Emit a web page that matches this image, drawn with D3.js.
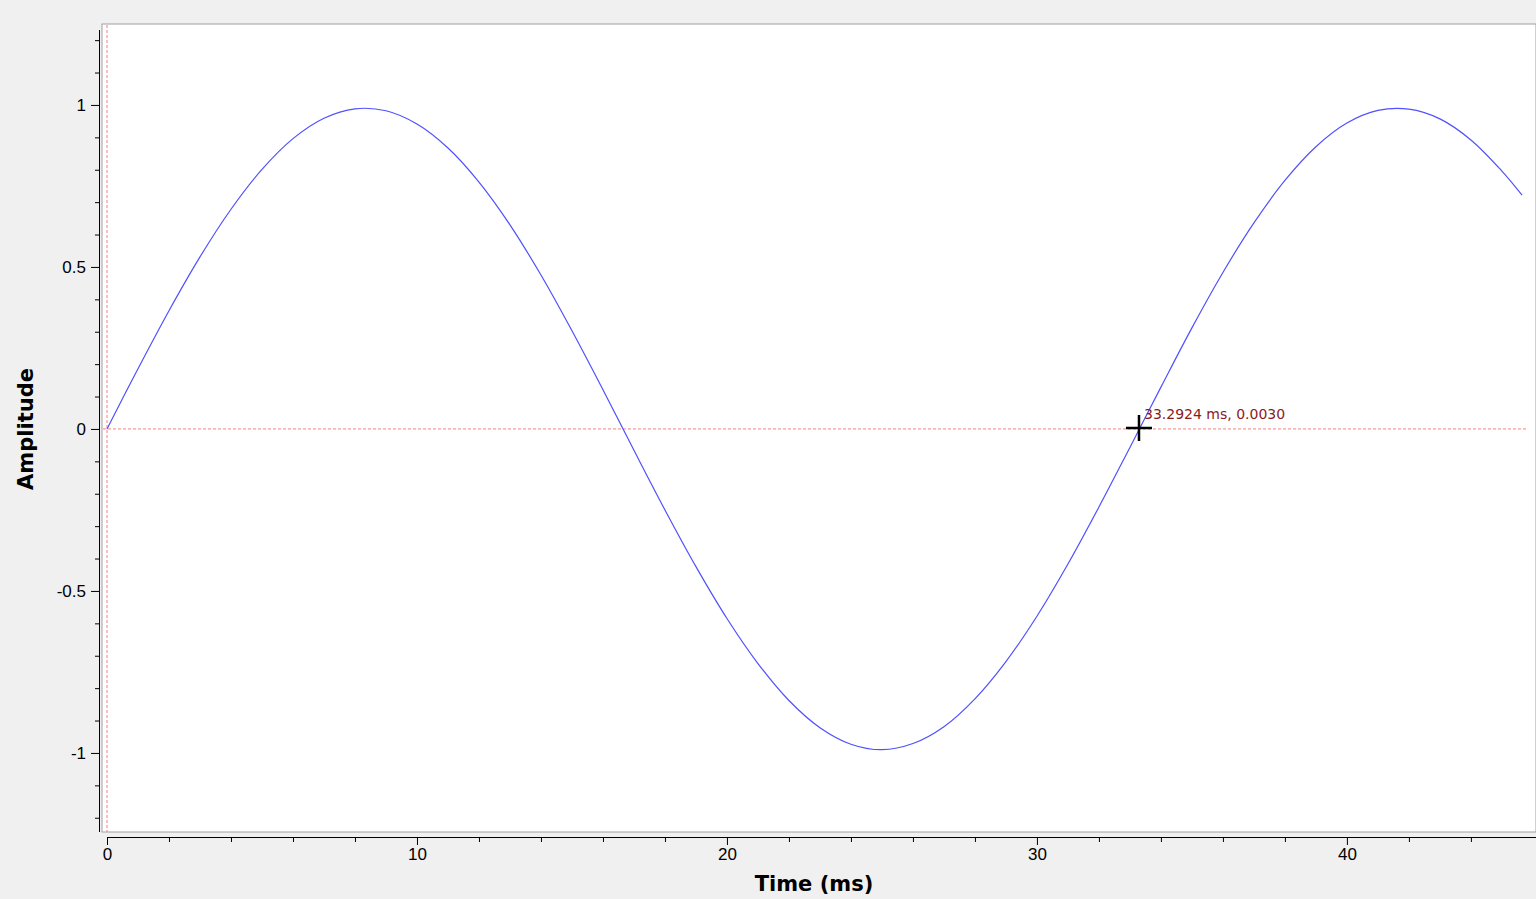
<!DOCTYPE html>
<html><head><meta charset="utf-8">
<script src="https://cdn.jsdelivr.net/npm/d3@7"></script>
<style>body{margin:0;background:#f0f0f0;}svg{display:block;font-family:"DejaVu Sans",Verdana,sans-serif;}</style>
</head><body><svg id="c" width="1536" height="899"></svg>
<script>
const timeMs = [0,1,2,3,4,5,6,7,8,9,10,11,12,13,14,15,16,17,18,19,20,21,22,23,24,25,26,27,28,29,30,31,32,33,34,35,36,37,38,39,40,41,42,43,44,45,45.65];
const amplitude = [0,0.186,0.365,0.531,0.678,0.801,0.896,0.959,0.988,0.982,0.941,0.867,0.762,0.630,0.475,0.303,0.121,-0.066,-0.250,-0.425,-0.585,-0.724,-0.838,-0.922,-0.973,-0.990,-0.971,-0.919,-0.833,-0.718,-0.578,-0.417,-0.241,-0.057,0.129,0.312,0.483,0.636,0.767,0.871,0.944,0.983,0.987,0.957,0.892,0.796,0.722];
const xTicks = [0,10,20,30,40];
const yTicks = [-1,-0.5,0,0.5,1];
const yTickLabels = ["-1","-0.5","0","0.5","1"];
const marker = {t:33.2924, a:0.0030, label:"33.2924 ms, 0.0030"};

const svg = d3.select("#c");
const x = d3.scaleLinear().domain([0,45.81]).range([107,1527]);
const y = d3.scaleLinear().domain([-1.244,1.256]).range([832,22]);

svg.append("rect").attr("x",102).attr("y",24).attr("width",1434).attr("height",808)
  .attr("fill","#fff").attr("stroke","#a0a0a0");

svg.append("line").attr("x1",x(0)).attr("x2",x(0)).attr("y1",25).attr("y2",832)
  .attr("stroke","#f08080").attr("stroke-dasharray","3,2");
svg.append("line").attr("x1",103).attr("x2",1527).attr("y1",y(0)).attr("y2",y(0))
  .attr("stroke","#f08080").attr("stroke-dasharray","3,2");

const xAxis = d3.axisBottom(x).tickValues(d3.range(0,46,2)).tickSize(5).tickFormat(d => xTicks.includes(d)? d : "");
const gx = svg.append("g").attr("transform","translate(0,837)").call(xAxis);
gx.select(".domain").attr("d",`M${x(0)},0.5H1536`).attr("stroke","#000");
gx.selectAll(".tick").filter(d=>xTicks.includes(d)).select("line").attr("y2",8);
gx.selectAll("text").attr("font-size",17).attr("dy","0.9em").attr("fill","#000");

const yAxis = d3.axisLeft(y).tickValues(d3.range(-12,13).map(v=>v/10)).tickSize(4)
  .tickFormat(d => { const i = yTicks.findIndex(v=>Math.abs(v-d)<1e-9); return i>=0? yTickLabels[i] : ""; });
const gy = svg.append("g").attr("transform","translate(99,0)").call(yAxis);
gy.select(".domain").attr("d","M0.5,30V832").attr("stroke","#000");
gy.selectAll(".tick").filter(d=>yTicks.some(v=>Math.abs(v-d)<1e-9)).select("line").attr("x2",-8);
gy.selectAll("text").attr("font-size",17).attr("x",-13).attr("fill","#000");

svg.append("path").datum(timeMs.map((t,i)=>[t,amplitude[i]]))
  .attr("d", d3.line().x(d=>x(d[0])).y(d=>y(d[1])).curve(d3.curveCatmullRom))
  .attr("fill","none").attr("stroke","#5050ff").attr("stroke-width",1.2);

const mx = x(marker.t), my = y(marker.a);
svg.append("path").attr("d",`M${mx-13},${my}H${mx+13}M${mx},${my-13}V${my+13}`).attr("stroke","#000").attr("stroke-width",2.5);
svg.append("text").attr("x",mx+5).attr("y",my-9).attr("font-size",14).attr("fill","#8b1a1a").text(marker.label);

svg.append("text").attr("x",814).attr("y",891).attr("text-anchor","middle").attr("font-size",21).attr("font-weight","bold").text("Time (ms)");
svg.append("text").attr("transform","translate(33,429) rotate(-90)").attr("text-anchor","middle").attr("font-size",21).attr("font-weight","bold").text("Amplitude");
</script></body></html>
